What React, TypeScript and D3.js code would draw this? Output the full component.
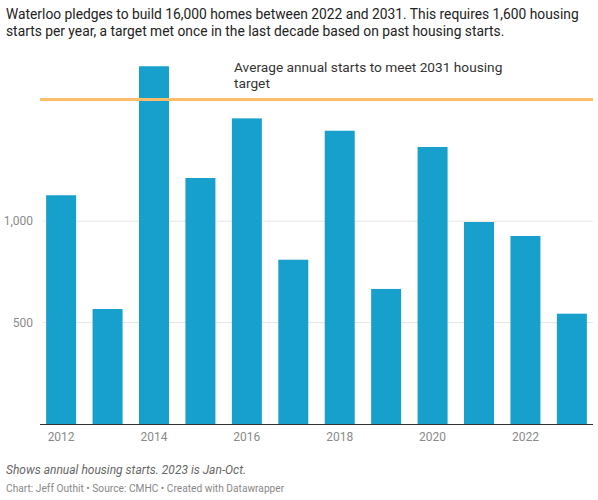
import React, { useEffect, useRef } from "react";
import * as d3 from "d3";

const years: string[] = [
  "2012", "2013", "2014", "2015", "2016", "2017",
  "2018", "2019", "2020", "2021", "2022", "2023",
];
const starts: number[] = [
  1128, 567, 1764, 1213, 1507, 810, 1446, 666, 1366, 996, 927, 544,
];
const yTicks: number[] = [500, 1000];
const xTickLabels: string[] = ["2012", "2014", "2016", "2018", "2020", "2022"];
const target = 1600;

const titleLines: string[] = [
  "Waterloo pledges to build 16,000 homes between 2022 and 2031. This requires 1,600 housing",
  "starts per year, a target met once in the last decade based on past housing starts.",
];
const targetLabel: string[] = ["Average annual starts to meet 2031 housing", "target"];
const note = "Shows annual housing starts. 2023 is Jan-Oct.";
const credits = "Chart: Jeff Outhit • Source: CMHC • Created with Datawrapper";

const HousingStartsChart: React.FC = () => {
  const svgRef = useRef<SVGSVGElement>(null);

  useEffect(() => {
    if (!svgRef.current) return;

    const width = 598;
    const height = 500;
    const font = "Roboto, sans-serif";
    const plot = { left: 40, right: 593, top: 59, bottom: 424 };

    const svg = d3.select(svgRef.current);
    svg.selectAll("*").remove();
    svg.attr("width", width).attr("height", height);

    svg.append("rect").attr("width", width).attr("height", height).attr("fill", "#fff");

    // title
    titleLines.forEach((line, i) => {
      svg
        .append("text")
        .attr("x", 6)
        .attr("y", 18.5 + i * 17.5)
        .text(line)
        .attr("fill", "#222")
        .attr("font-family", font)
        .attr("font-size", "13.8px");
    });

    const xScale = d3
      .scaleBand<string>()
      .domain(years)
      .range([plot.left, plot.right])
      .paddingInner(0.354)
      .paddingOuter(0.132);

    const yScale = d3
      .scaleLinear()
      .domain([0, 1800])
      .range([plot.bottom, plot.bottom - 1800 * 0.2028]);

    // gridlines + y labels
    yTicks.forEach((t) => {
      svg
        .append("line")
        .attr("x1", plot.left + 3)
        .attr("x2", plot.right)
        .attr("y1", yScale(t))
        .attr("y2", yScale(t))
        .attr("stroke", "#e4e4e4")
        .attr("stroke-width", 1);
      svg
        .append("text")
        .attr("x", 33)
        .attr("y", yScale(t))
        .attr("dy", "0.35em")
        .attr("text-anchor", "end")
        .text(d3.format(",")(t))
        .attr("fill", "#8a8a8a")
        .attr("font-family", font)
        .attr("font-size", "12px");
    });

    // bars
    svg
      .selectAll(".bar")
      .data(starts)
      .enter()
      .append("rect")
      .attr("class", "bar")
      .attr("x", (_, i) => xScale(years[i]) as number)
      .attr("width", xScale.bandwidth())
      .attr("y", (d) => yScale(d))
      .attr("height", (d) => yScale(0) - yScale(d))
      .attr("fill", "#18a0cc");

    // baseline
    svg
      .append("line")
      .attr("x1", plot.left)
      .attr("x2", plot.right)
      .attr("y1", yScale(0) + 0.5)
      .attr("y2", yScale(0) + 0.5)
      .attr("stroke", "#333")
      .attr("stroke-width", 1);

    // x labels
    xTickLabels.forEach((y) => {
      svg
        .append("text")
        .attr("x", (xScale(y) as number) + xScale.bandwidth() / 2)
        .attr("y", 441)
        .attr("text-anchor", "middle")
        .text(y)
        .attr("fill", "#8a8a8a")
        .attr("font-family", font)
        .attr("font-size", "12px");
    });

    // target line
    svg
      .append("line")
      .attr("x1", plot.left)
      .attr("x2", plot.right)
      .attr("y1", yScale(target))
      .attr("y2", yScale(target))
      .attr("stroke", "#fdbd6b")
      .attr("stroke-width", 3);

    targetLabel.forEach((line, i) => {
      svg
        .append("text")
        .attr("x", 234)
        .attr("y", 72 + i * 15.5)
        .text(line)
        .attr("fill", "#333")
        .attr("font-family", font)
        .attr("font-size", "13.7px");
    });

    // notes
    svg
      .append("text")
      .attr("x", 6)
      .attr("y", 474)
      .text(note)
      .attr("fill", "#666")
      .attr("font-family", font)
      .attr("font-style", "italic")
      .attr("font-size", "12px");

    svg
      .append("text")
      .attr("x", 6)
      .attr("y", 492)
      .text(credits)
      .attr("fill", "#888")
      .attr("font-family", font)
      .attr("font-size", "10.2px");
  }, []);

  return (
    <svg
      ref={svgRef}
      style={{ position: "absolute", left: 0, top: 0, display: "block" }}
    ></svg>
  );
};

export default function App() {
  return <HousingStartsChart />;
}
